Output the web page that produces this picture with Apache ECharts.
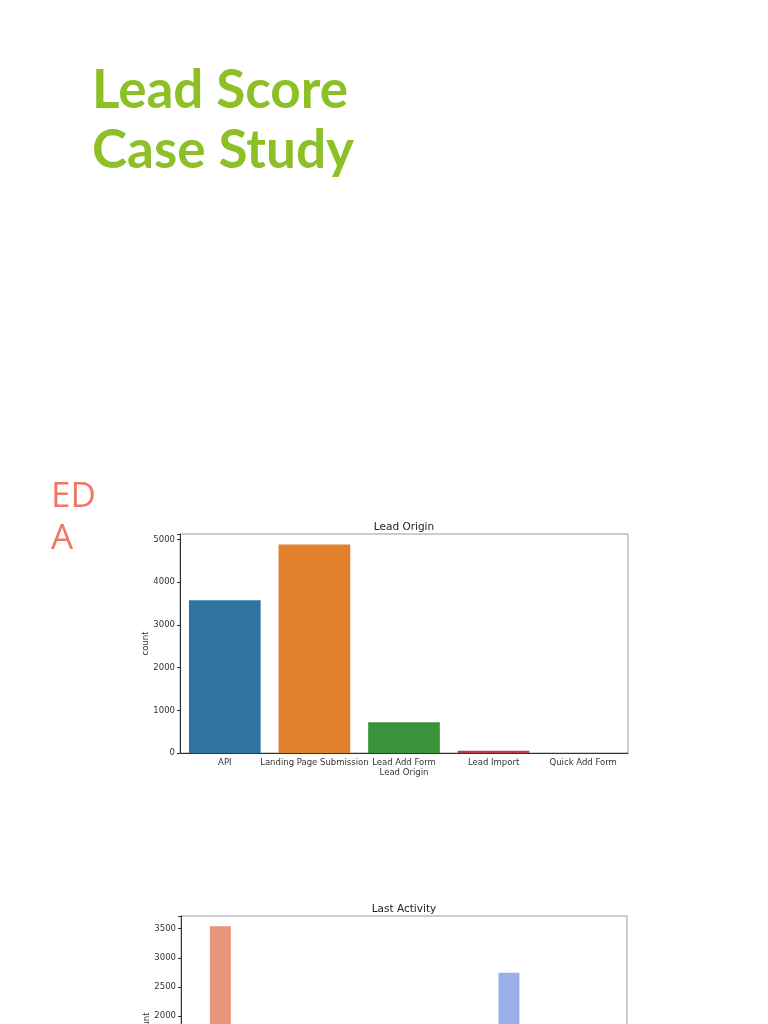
<!DOCTYPE html>
<html>
<head>
<meta charset="utf-8">
<script src="https://cdn.jsdelivr.net/npm/echarts@6/dist/echarts.min.js"></script>
<style>
  html, body { margin: 0; padding: 0; background: #fff; overflow: hidden; width: 768px; height: 1024px; }
  #main { width: 768px; height: 1200px; }
</style>
</head>
<body>
<div id="main"></div>
<script type="text/javascript">
var originCats = ['API', 'Landing Page Submission', 'Lead Add Form', 'Lead Import', 'Quick Add Form'];
var originCounts = [3580, 4886, 718, 55, 1];
var originColors = ['#3274a1', '#e1812c', '#3a923a', '#c03d3e', '#9372b2'];

var activityCats = ['Page Visited on Website', 'Email Opened', 'Unreachable', 'Converted to Lead',
    'Olark Chat Conversation', 'Email Bounced', 'Email Link Clicked', 'Form Submitted on Website',
    'Unsubscribed', 'Had a Phone Conversation', 'View in browser link Clicked', 'Approached upfront',
    'SMS Sent', 'Visited Booth in Tradeshow', 'Resubscribed to emails', 'Email Received', 'Email Marked Spam'];
var activityCounts = [640, 3540, 93, 428, 973, 326, 267, 116, 61, 30, 6, 9, 2745, 1, 1, 2, 2];
var activityColors = ['#6fbfa0', '#e6967a', '#a9b4cc', '#d993c0', '#a8cf6a', '#e8cf52', '#d9c29c', '#b4b4b4',
    '#73b9a2', '#e39d80', '#9fb0d3', '#d79fc4', '#9aaee8', '#dcc95f', '#d7c4a4', '#b8b8b8', '#7fb8a4'];

var originTicks = [0, 1000, 2000, 3000, 4000, 5000];
var activityTicks = [0, 500, 1000, 1500, 2000, 2500, 3000, 3500];

var chart = echarts.init(document.getElementById('main'));

var tickFont = { fontFamily: 'DejaVu Sans', fontSize: 8.5, color: '#333' };

function barData(vals, cols) {
    return vals.map(function (v, i) {
        return { value: v, itemStyle: { color: cols[i % cols.length] } };
    });
}

var option = {
    animation: false,
    backgroundColor: '#fff',
    title: [
        {
            text: 'Lead Score\nCase Study',
            left: 87, top: 56,
            textStyle: { fontFamily: 'Lato', fontSize: 53, fontWeight: 'bold', color: '#8cc026', lineHeight: 60 }
        },
        {
            text: 'ED\nA',
            left: 46, top: 471,
            textStyle: { fontFamily: 'Open Sans', fontSize: 35, fontWeight: 'normal', color: '#ee7766', lineHeight: 42 }
        },
        {
            text: 'Lead Origin',
            left: 399, top: 517, textAlign: 'center',
            textStyle: { fontFamily: 'DejaVu Sans', fontSize: 10.5, fontWeight: 'normal', color: '#222' }
        },
        {
            text: 'Last Activity',
            left: 399, top: 899, textAlign: 'center',
            textStyle: { fontFamily: 'DejaVu Sans', fontSize: 10.5, fontWeight: 'normal', color: '#222' }
        }
    ],
    grid: [
        { left: 180, top: 534, width: 448, height: 219, outerBoundsMode: 'none', show: true, borderColor: '#999', borderWidth: 1, backgroundColor: '#fff' },
        { left: 181, top: 916, width: 446, height: 217, outerBoundsMode: 'none', show: true, borderColor: '#999', borderWidth: 1, backgroundColor: '#fff' }
    ],
    xAxis: [
        {
            type: 'category', gridIndex: 0, data: originCats,
            name: 'Lead Origin', nameLocation: 'middle', nameGap: 15,
            nameTextStyle: tickFont,
            axisLine: { lineStyle: { color: '#333', width: 1 } },
            axisTick: { alignWithLabel: true, length: 3, lineStyle: { color: '#333' } },
            axisLabel: Object.assign({ margin: 5, interval: 0 }, tickFont)
        },
        {
            type: 'category', gridIndex: 1, data: activityCats,
            axisLine: { lineStyle: { color: '#333', width: 1 } },
            axisTick: { alignWithLabel: true, length: 3, lineStyle: { color: '#333' } },
            axisLabel: Object.assign({ margin: 5, interval: 0, rotate: 90 }, tickFont)
        }
    ],
    yAxis: [
        {
            type: 'value', gridIndex: 0, min: 0, max: 5130, interval: 1000,
            name: 'count', nameLocation: 'middle', nameGap: 30, nameMoveOverlap: false, nameTextStyle: tickFont,
            axisLine: { show: true, lineStyle: { color: '#333', width: 1 } },
            axisTick: { show: true, length: 3, lineStyle: { color: '#333' } },
            splitLine: { show: false },
            axisLabel: Object.assign({ margin: 5, formatter: function (v) { return originTicks.indexOf(v) >= 0 ? v : ''; } }, tickFont)
        },
        {
            type: 'value', gridIndex: 1, min: 0, max: 3717, interval: 500,
            name: 'count', nameLocation: 'middle', nameGap: 30, nameMoveOverlap: false, nameTextStyle: tickFont,
            axisLine: { show: true, lineStyle: { color: '#333', width: 1 } },
            axisTick: { show: true, length: 3, lineStyle: { color: '#333' } },
            splitLine: { show: false },
            axisLabel: Object.assign({ margin: 5, formatter: function (v) { return activityTicks.indexOf(v) >= 0 ? v : ''; } }, tickFont)
        }
    ],
    series: [
        {
            type: 'bar', xAxisIndex: 0, yAxisIndex: 0, barWidth: '80%',
            data: barData(originCounts, originColors)
        },
        {
            type: 'bar', xAxisIndex: 1, yAxisIndex: 1, barWidth: '80%',
            data: barData(activityCounts, activityColors)
        }
    ]
};

chart.setOption(option);
</script>
</body>
</html>
